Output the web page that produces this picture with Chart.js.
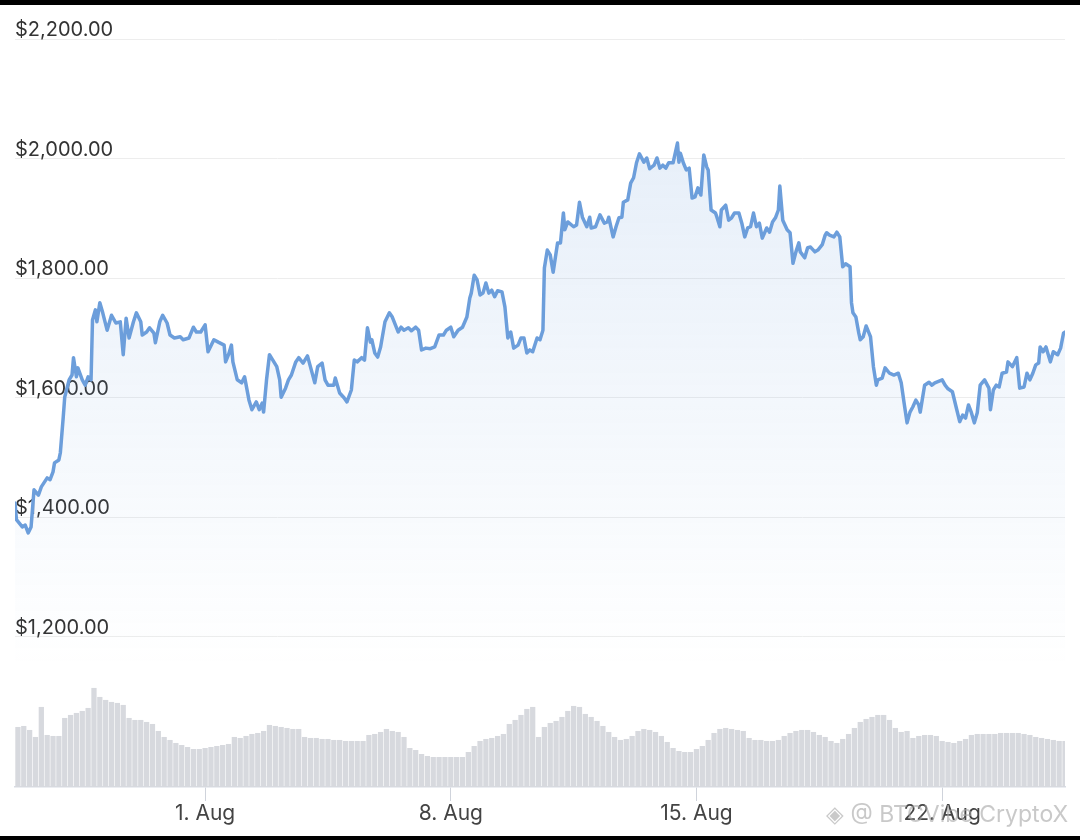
<!DOCTYPE html>
<html>
<head>
<meta charset="utf-8">
<title>Price chart</title>
<script src="https://cdn.jsdelivr.net/npm/chart.js@4.4.0/dist/chart.umd.min.js"></script>
<style>
    html, body { margin: 0; padding: 0; background: #fff; }
    #wrap { position: relative; width: 1080px; height: 840px; overflow: hidden; }
    #priceChart { position: absolute; left: 0; top: 0; }
    .edge { position: absolute; left: 0; width: 1080px; background: #000; }
    #watermark {
        position: absolute; left: 826px; top: 800px;
        font-family: Inter, "Noto Sans", sans-serif; font-size: 23px;
        color: rgba(165, 165, 165, 0.6); white-space: nowrap;
    }
</style>
</head>
<body>
<div id="wrap">
    <canvas id="priceChart" width="1080" height="840"></canvas>
    <div class="edge" style="top:0;height:5px"></div>
    <div class="edge" style="bottom:0;height:4px"></div>
    <div id="watermark">◈ @ BTCVibe CryptoX</div>
</div>
<script>
// x values are hours from 1 Aug 00:00
const tickHours = [0, 168, 336, 504];
const tickLabels = ['1. Aug', '8. Aug', '15. Aug', '22. Aug'];
const priceTicks = [1200, 1400, 1600, 1800, 2000, 2200];

const priceHours = [
    -130, -129, -125, -123, -121, -119, -117, -114, -112, -108,
    -106, -104, -103, -100, -99, -97, -96, -93, -91, -90,
    -88, -87, -84, -82, -80, -78, -77, -75, -74, -72,
    -70, -67, -64, -61, -58, -56, -54, -52, -49, -47,
    -44, -43, -40, -38, -35, -34, -31, -29, -26, -24,
    -21, -17, -15, -11, -8, -6, -3, 0, 2, 6,
    9, 13, 14, 16, 18, 19, 22, 25, 27, 30,
    32, 35, 37, 39, 40, 42, 44, 49, 51, 52,
    55, 57, 59, 62, 64, 67, 70, 72, 75, 77,
    80, 82, 84, 88, 89, 92, 95, 97, 100, 102,
    104, 107, 109, 111, 113, 114, 116, 118, 120, 123,
    126, 128, 132, 134, 136, 139, 141, 144, 146, 148,
    151, 154, 157, 160, 163, 165, 168, 170, 173, 176,
    179, 181, 182, 184, 186, 188, 190, 192, 194, 196,
    198, 200, 203, 205, 207, 209, 211, 214, 216, 218,
    220, 222, 224, 227, 229, 231, 232, 234, 236, 238,
    241, 243, 245, 246, 248, 252, 254, 256, 258, 261,
    263, 264, 267, 270, 273, 275, 276, 279, 281, 283,
    285, 286, 289, 291, 293, 295, 297, 300, 302, 304,
    307, 309, 311, 313, 315, 317, 320, 323, 324, 325,
    327, 329, 331, 333, 335, 337, 339, 341, 343, 344,
    346, 349, 350, 352, 353, 356, 358, 360, 362, 365,
    367, 369, 371, 373, 375, 377, 379, 381, 384, 386,
    388, 390, 392, 393, 395, 398, 400, 402, 404, 406,
    407, 410, 412, 414, 417, 419, 422, 424, 425, 427,
    430, 432, 434, 436, 438, 441, 442, 443, 445, 447,
    448, 450, 452, 454, 455, 457, 459, 460, 463, 465,
    468, 471, 474, 476, 478, 480, 482, 484, 486, 488,
    489, 492, 495, 497, 499, 504, 506, 508, 511, 514,
    516, 518, 520, 522, 524, 526, 528, 530, 533, 536,
    537, 539, 541, 543, 545, 548, 549, 552, 555, 557,
    560, 562, 564, 566, 568, 570, 571, 573, 575, 578,
    580, 583, 585, 587, 588
];

const prices = [
    1424, 1396, 1384, 1387, 1374, 1384, 1446, 1437, 1451, 1466,
    1463, 1476, 1491, 1496, 1508, 1568, 1601, 1630, 1638, 1667,
    1635, 1650, 1630, 1621, 1635, 1630, 1730, 1747, 1727, 1759,
    1742, 1713, 1738, 1725, 1727, 1672, 1733, 1700, 1727, 1742,
    1727, 1705, 1710, 1717, 1708, 1692, 1727, 1738, 1725, 1705,
    1700, 1702, 1697, 1700, 1718, 1710, 1710, 1722, 1677, 1697,
    1693, 1688, 1660, 1672, 1688, 1660, 1630, 1625, 1635, 1596,
    1580, 1593, 1580, 1591, 1576, 1630, 1672, 1652, 1630, 1601,
    1616, 1630, 1638, 1660, 1667, 1658, 1670, 1652, 1625, 1652,
    1658, 1630, 1621, 1621, 1633, 1608, 1600, 1593, 1613, 1663,
    1660, 1667, 1663, 1717, 1693, 1697, 1675, 1668, 1685, 1727,
    1742, 1735, 1710, 1718, 1713, 1717, 1712, 1718, 1713, 1680,
    1683, 1682, 1685, 1705, 1705, 1713, 1718, 1702, 1713, 1718,
    1735, 1767, 1775, 1805, 1797, 1772, 1775, 1792, 1775, 1780,
    1769, 1779, 1777, 1752, 1700, 1710, 1683, 1688, 1700, 1700,
    1675, 1680, 1677, 1700, 1697, 1713, 1817, 1847, 1839, 1810,
    1859, 1859, 1909, 1881, 1894, 1886, 1889, 1927, 1902, 1886,
    1902, 1884, 1886, 1906, 1892, 1894, 1902, 1869, 1886, 1901,
    1902, 1927, 1931, 1959, 1968, 1993, 2008, 1994, 2001, 1983,
    1989, 2001, 1984, 1989, 1984, 1993, 1993, 2026, 1994, 2009,
    1993, 1981, 1984, 1934, 1936, 1951, 1939, 2006, 1986, 1981,
    1914, 1909, 1902, 1886, 1914, 1922, 1897, 1901, 1909, 1909,
    1892, 1869, 1884, 1886, 1909, 1886, 1892, 1867, 1884, 1877,
    1894, 1901, 1914, 1954, 1897, 1881, 1876, 1825, 1844, 1859,
    1844, 1834, 1851, 1852, 1844, 1847, 1856, 1872, 1876, 1872,
    1869, 1877, 1869, 1819, 1824, 1819, 1759, 1742, 1735, 1708,
    1697, 1702, 1720, 1708, 1702, 1652, 1621, 1630, 1633, 1650,
    1641, 1638, 1641, 1625, 1591, 1558, 1576, 1585, 1596, 1588,
    1576, 1621, 1626, 1621, 1625, 1630, 1621, 1615, 1610, 1580,
    1560, 1571, 1566, 1588, 1575, 1558, 1575, 1621, 1630, 1616,
    1580, 1613, 1621, 1618, 1641, 1643, 1660, 1652, 1667, 1616,
    1618, 1641, 1630, 1641, 1655, 1658, 1685, 1677, 1685, 1660,
    1677, 1672, 1683, 1708, 1710
];

// one volume bar every 4 hours, first bar at -128 h
const volumeStartHour = -128;
const volumeStepHours = 4;
const volumes = [
    60, 61, 57, 50, 80, 52, 51, 51, 69, 72,
    74, 76, 79, 99, 90, 87, 85, 84, 82, 69,
    67, 67, 65, 63, 56, 50, 47, 44, 42, 40,
    38, 38, 39, 40, 41, 42, 43, 50, 49, 51,
    53, 54, 56, 62, 61, 60, 59, 58, 58, 50,
    49, 49, 48, 48, 47, 47, 46, 46, 46, 46,
    52, 53, 55, 58, 56, 55, 50, 39, 37, 33,
    31, 30, 30, 30, 30, 30, 30, 35, 41, 46,
    48, 49, 51, 53, 63, 67, 72, 78, 80, 50,
    60, 64, 66, 70, 76, 81, 80, 73, 70, 66,
    61, 55, 50, 47, 48, 51, 56, 58, 57, 55,
    51, 45, 39, 36, 35, 35, 38, 41, 47, 54,
    58, 59, 58, 57, 56, 49, 47, 47, 46, 46,
    47, 51, 54, 56, 57, 57, 55, 52, 50, 46,
    44, 48, 53, 59, 65, 68, 70, 72, 72, 67,
    59, 55, 56, 49, 51, 52, 52, 51, 46, 45,
    44, 46, 48, 52, 53, 53, 53, 53, 54, 54,
    54, 54, 53, 52, 50, 49, 48, 47, 46, 46
];

function fillGradient(context) {
    const chart = context.chart;
    if (!chart.chartArea) {
        return 'rgba(0,0,0,0)';
    }
    const yScale = chart.scales.y;
    const g = chart.ctx.createLinearGradient(0, yScale.getPixelForValue(2050), 0, yScale.getPixelForValue(1150));
    g.addColorStop(0, 'rgba(108, 158, 219, 0.17)');
    g.addColorStop(1, 'rgba(108, 158, 219, 0)');
    return g;
}

const priceData = priceHours.map((h, i) => ({x: h, y: prices[i]}));
const volumeData = volumes.map((v, i) => ({x: volumeStartHour + i * volumeStepHours, y: v}));

new Chart(document.getElementById('priceChart'), {
    data: {
        datasets: [
            {
                type: 'line',
                label: 'Price',
                data: priceData,
                yAxisID: 'y',
                borderColor: '#6c9edb',
                borderWidth: 3.5,
                borderJoinStyle: 'round',
                borderCapStyle: 'round',
                pointRadius: 0,
                tension: 0,
                fill: 'start',
                backgroundColor: fillGradient,
                order: 1
            },
            {
                type: 'bar',
                label: 'Volume',
                data: volumeData,
                yAxisID: 'yVol',
                backgroundColor: '#d7d9de',
                barPercentage: 0.9,
                categoryPercentage: 1,
                order: 2
            }
        ]
    },
    options: {
        responsive: false,
        animation: false,
        devicePixelRatio: 1,
        layout: {padding: {top: 39, left: 15, right: 15, bottom: 5}},
        plugins: {
            legend: {display: false},
            tooltip: {enabled: false}
        },
        scales: {
            x: {
                type: 'linear',
                min: -130,
                max: 588,
                offset: false,
                afterBuildTicks: (scale) => {
                    scale.ticks = tickHours.map(v => ({value: v}));
                },
                afterFit: (scale) => {
                    scale.height = 48;
                },
                grid: {offset: false, drawOnChartArea: false, drawTicks: true, tickLength: 14, color: '#cfd3db'},
                border: {display: true, color: '#d8dce4', width: 1.5},
                ticks: {
                    padding: 0,
                    color: '#444',
                    maxRotation: 0,
                    autoSkip: false,
                    font: {family: 'Inter', size: 21},
                    callback: (v) => {
                        const k = tickHours.indexOf(v);
                        return k >= 0 ? tickLabels[k] : '';
                    }
                }
            },
            y: {
                type: 'linear',
                position: 'left',
                min: 949,
                max: 2200,
                afterBuildTicks: (scale) => {
                    scale.ticks = priceTicks.map(v => ({value: v}));
                },
                afterFit: (scale) => {
                    scale.width = 0;
                },
                grid: {color: '#ededed', drawTicks: false, lineWidth: 1},
                border: {display: false},
                ticks: {
                    mirror: true,
                    padding: 0,
                    labelOffset: -9,
                    color: '#333',
                    font: {family: 'Inter', size: 20},
                    callback: (v) => '$' + v.toLocaleString('en-US', {minimumFractionDigits: 2, maximumFractionDigits: 2})
                }
            },
            yVol: {
                type: 'linear',
                display: false,
                min: 0,
                max: Math.max(...volumes) * 7.55
            }
        }
    }
});
</script>
</body>
</html>
